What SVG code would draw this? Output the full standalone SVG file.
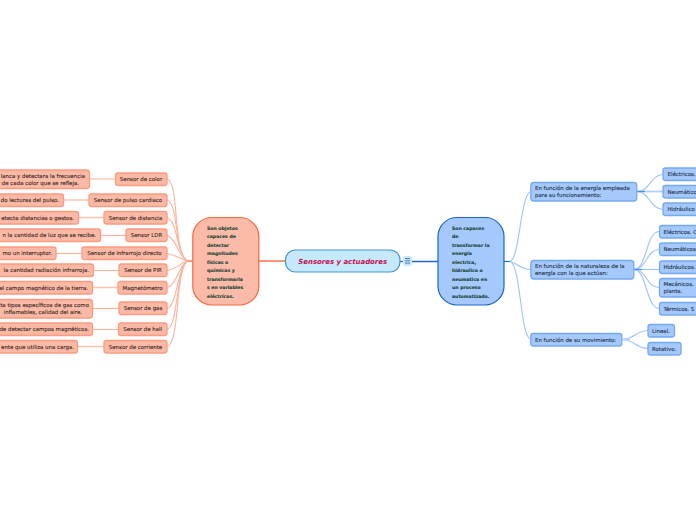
<svg xmlns="http://www.w3.org/2000/svg" width="696" height="520" viewBox="0 0 696 520">
<style>
text{font-family:"DejaVu Sans",Verdana,sans-serif;font-size:5.45px;fill:#3d2c28;stroke:#3d2c28;stroke-width:.12}
.e{text-anchor:end}
.o rect{fill:#fcbaa6;stroke:#fd9a80;stroke-width:1.3}
.b rect{fill:#a5c9fd;stroke:#75a9ef;stroke-width:1.3}
.b text{fill:#26364c;stroke:#26364c}
.bo{font-weight:bold;font-size:4.62px;fill:#1a4436;stroke:#1a4436}
.lo{fill:none;stroke:#fdb29b;stroke-width:1.1}
.lw{fill:none;stroke:#fdc2b0;stroke-width:1.5}
.lb{fill:none;stroke:#9cc3f8;stroke-width:1.1}
.lbw{fill:none;stroke:#b3d1fa;stroke-width:1.8}
</style>
<g id="connectors">
<path d="M259 261H285" style="fill:none;stroke:#f5683c;stroke-width:1.4"/>
<path d="M412 261.500H438" style="fill:none;stroke:#1f66cc;stroke-width:1.5"/>
<path d="M400 261.500H403" style="fill:none;stroke:#1f66cc;stroke-width:1.2"/>
<path d="M185 261H192.500" style="fill:none;stroke:#f5683c;stroke-width:1.3"/>
<path d="M504 261.500H510" style="fill:none;stroke:#1f66cc;stroke-width:1.1"/>
<path class="lo" d="M167 179C180 183 172 250 187 261"/>
<path class="lo" d="M167 200C179 204 174 252 187 261"/>
<path class="lo" d="M167 217.500C178 221 176 253 187 261"/>
<path class="lo" d="M167 235.500C176 238 178 255 187 261"/>
<path class="lo" d="M167 253.500C174 255 180 258 187 261"/>
<path class="lo" d="M167 270.500C174 270 180 264 187 261"/>
<path class="lo" d="M167 287.500C176 286 178 268 187 261"/>
<path class="lo" d="M167 308.500C177 306 177 270 187 261"/>
<path class="lo" d="M167 329.500C178 327 176 271 187 261"/>
<path class="lo" d="M167 346.500C180 344 175 272 187 261"/>
<path class="lo" d="M90 179H115"/>
<path class="lo" d="M64 200H89"/>
<path class="lw" d="M79 217.500H104"/>
<path class="lo" d="M101 235.500H126"/>
<path class="lo" d="M56 253.500H82"/>
<path class="lo" d="M94 270.500H119"/>
<path class="lw" d="M93 287.500H118"/>
<path class="lo" d="M93 308.500H119"/>
<path class="lo" d="M93 329.500H118"/>
<path class="lw" d="M78 346.500H104"/>
<path class="lb" d="M510 261.500C520 258 520 196 530.500 191.500"/>
<path class="lb" d="M510 261.500C517 263 522 270 530.500 269.500"/>
<path class="lb" d="M510 261.500C521 265 520 335 530.500 339.500"/>
<path class="lb" d="M637 191.500C650 192 650 175 663 174.500"/>
<path class="lbw" d="M637 191.500H663"/>
<path class="lb" d="M637 191.500C650 192 650 209 663 209.500"/>
<path class="lb" d="M634 269.500C647 269 646 232 659 231.500"/>
<path class="lb" d="M634 269.500C647 269 646 250 659 249.500"/>
<path class="lb" d="M634 269.500H659"/>
<path class="lb" d="M634 269.500C647 270 646 287 659 287.500"/>
<path class="lb" d="M634 269.500C647 270 646 308 659 308.500"/>
<path class="lb" d="M622 339.500C635 339 635 331 648 330.500"/>
<path class="lb" d="M622 339.500C635 340 635 348 648 348.500"/>
<path class="lbw" d="M622 339.500H630"/>
<path d="M634 269.500H642" style="fill:none;stroke:#4d8fe6;stroke-width:1.2"/>
<path d="M637 191.500H645" style="fill:none;stroke:#4d8fe6;stroke-width:1.2"/>
</g>
<g id="center"><rect x="285.500" y="250" width="114.500" height="22" rx="10" fill="#c6e9fe" stroke="#3f94d6" stroke-width="1.2"/><text x="342.700" y="263.800" text-anchor="middle" style="font-size:6.950px;font-weight:bold;font-style:italic;fill:#c2134d;stroke:none">Sensores y actuadores</text></g>
<g id="icon"><rect x="403" y="256" width="9" height="10" rx="2" fill="#c6e9fe"/><path d="M405 258.500H410M405 260.800H410M405 263.100H410" stroke="#2e5f9e" stroke-width=".8" fill="none"/></g>
<g id="left-main"><rect x="192.800" y="217.500" width="66" height="87.500" rx="19" fill="#fbbba8" stroke="#f5683c" stroke-width="1.2"/>
<text class="bo" x="207" y="229.800">Son objetos</text><text class="bo" x="207" y="238">capaces de</text><text class="bo" x="207" y="246.700">detectar</text><text class="bo" x="207" y="255.200">magnitudes</text><text class="bo" x="207" y="263.500">físicas o</text><text class="bo" x="207" y="272">químicas y</text><text class="bo" x="207" y="280.500">transformaria</text><text class="bo" x="207" y="288.800">s en variables</text><text class="bo" x="207" y="297.500">eléctricas.</text></g>
<g id="right-main"><rect x="438" y="217.500" width="66" height="87.500" rx="19" fill="#a5c9fd" stroke="#1f66cc" stroke-width="1.2"/>
<text class="bo" x="452" y="229.800">Son capaces</text><text class="bo" x="452" y="238">de</text><text class="bo" x="452" y="246.700">transformar la</text><text class="bo" x="452" y="255.200">energía</text><text class="bo" x="452" y="263.500">electrica,</text><text class="bo" x="452" y="272">hidraulica o</text><text class="bo" x="452" y="280.500">neumatica en</text><text class="bo" x="452" y="288.800">un proceso</text><text class="bo" x="452" y="297.500">automatizado.</text></g>
<g class="o">
<g id="s1"><rect x="115.500" y="173" width="51.500" height="12.500" rx="2.500"/><text x="141" y="181.200" text-anchor="middle">Sensor de color</text></g>
<g id="s1d"><rect x="-10" y="170" width="99.500" height="18.500" rx="3"/><text class="e" x="85" y="178">lanca y detectara la frecuencia</text><text class="e" x="79" y="185">de cada color que se refleja.</text></g>
<g id="s2"><rect x="89" y="194" width="78" height="12.500" rx="2.500"/><text x="128" y="202.200" text-anchor="middle">Sensor de pulso cardiaco</text></g>
<g id="s2d"><rect x="-10" y="194" width="73.500" height="12.500" rx="2.500"/><text class="e" x="59" y="202.200">do lecturas del pulso.</text></g>
<g id="s3"><rect x="104" y="211.500" width="63" height="12.500" rx="2.500"/><text x="135.500" y="219.700" text-anchor="middle">Sensor de distancia</text></g>
<g id="s3d"><rect x="-10" y="211.500" width="88.500" height="12.500" rx="2.500"/><text class="e" x="74" y="219.700">etecta distancias o gestos.</text></g>
<g id="s4"><rect x="126" y="229" width="41" height="12.500" rx="2.500"/><text x="146.500" y="237.200" text-anchor="middle">Sensor LDR</text></g>
<g id="s4d"><rect x="-10" y="229" width="110.500" height="12.500" rx="2.500"/><text class="e" x="96" y="237.200">n la cantidad de luz que se recibe.</text></g>
<g id="s5"><rect x="82" y="247" width="85" height="12.500" rx="2.500"/><text x="124.500" y="255.200" text-anchor="middle">Sensor de infrarrojo directo</text></g>
<g id="s5d"><rect x="-10" y="247" width="66" height="12.500" rx="2.500"/><text class="e" x="52" y="255.200">mo un interruptor.</text></g>
<g id="s6"><rect x="119" y="264" width="48" height="12.500" rx="2.500"/><text x="143" y="272.200" text-anchor="middle">Sensor de PIR</text></g>
<g id="s6d"><rect x="-10" y="264" width="103.500" height="12.500" rx="2.500"/><text class="e" x="89" y="272.200">la cantidad radiación infrarroja.</text></g>
<g id="s7"><rect x="118" y="281.500" width="49" height="12.500" rx="2.500"/><text x="142.500" y="289.700" text-anchor="middle">Magnetómetro</text></g>
<g id="s7d"><rect x="-10" y="281.500" width="102.500" height="12.500" rx="2.500"/><text class="e" x="88" y="289.700">el campo magnético de la tierra.</text></g>
<g id="s8"><rect x="119" y="302" width="48" height="12.500" rx="2.500"/><text x="143" y="310.200" text-anchor="middle">Sensor de gas</text></g>
<g id="s8d"><rect x="-10" y="299.500" width="102.500" height="18.500" rx="3"/><text class="e" x="89" y="307">ta tipos específicos de gas como</text><text class="e" x="82" y="314">inflamables, calidad del aire.</text></g>
<g id="s9"><rect x="118.500" y="323" width="48.500" height="12.500" rx="2.500"/><text x="142.700" y="331.200" text-anchor="middle">Sensor de hall</text></g>
<g id="s9d"><rect x="-10" y="323" width="102.500" height="12.500" rx="2.500"/><text class="e" x="89" y="331.200">de detectar campos magnéticos.</text></g>
<g id="s10"><rect x="104" y="340.500" width="63" height="12.500" rx="2.500"/><text x="135.500" y="348.700" text-anchor="middle">Sensor de corriente</text></g>
<g id="s10d"><rect x="-10" y="340.500" width="87.500" height="12.500" rx="2.500"/><text class="e" x="74" y="348.700">ente que utiliza una carga.</text></g>
</g>
<g class="b">
<g id="a1"><rect x="530.800" y="182.500" width="106" height="18.500" rx="3"/><text x="535" y="190">En función de la energía empleada</text><text x="535" y="197">para su funcionamiento:</text></g>
<g id="a2"><rect x="530.800" y="260.500" width="103" height="18.500" rx="3"/><text x="535" y="268">En función de la naturaleza de la</text><text x="535" y="275">energía con la que actúan:</text></g>
<g id="a3"><rect x="530.800" y="333.500" width="91" height="12.500" rx="2.500"/><text x="535" y="341.700">En función de su movimiento:</text></g>
<g id="b1"><rect x="663" y="168" width="45" height="12.500" rx="2.500"/><text x="667.500" y="176.200">Eléctricos.</text></g>
<g id="b2"><rect x="663" y="185.500" width="45" height="12.500" rx="2.500"/><text x="667.500" y="193.700">Neumático</text></g>
<g id="b3"><rect x="663" y="203" width="45" height="12.500" rx="2.500"/><text x="667.500" y="211.200">Hidráulico</text></g>
<g id="c1"><rect x="659.500" y="225.500" width="48" height="12.500" rx="2.500"/><text x="663.500" y="233.700">Eléctricos. C</text></g>
<g id="c2"><rect x="659.500" y="243" width="48" height="12.500" rx="2.500"/><text x="663.500" y="251.200">Neumáticos</text></g>
<g id="c3"><rect x="659.500" y="261" width="48" height="12.500" rx="2.500"/><text x="663.500" y="269.200">Hidráulicos.</text></g>
<g id="c4"><rect x="659.500" y="278.500" width="48" height="18.500" rx="3"/><text x="663.500" y="286">Mecánicos.</text><text x="663.500" y="293">planta.</text></g>
<g id="c5"><rect x="659.500" y="302.500" width="48" height="12.500" rx="2.500"/><text x="663.500" y="310.700">Térmicos. S</text></g>
<g id="d1"><rect x="648" y="324.500" width="26.500" height="12.500" rx="2.500"/><text x="652" y="332.700">Lineal.</text></g>
<g id="d2"><rect x="648" y="342.500" width="33" height="12.500" rx="2.500"/><text x="652" y="350.700">Rotativo.</text></g>
</g>
</svg>
